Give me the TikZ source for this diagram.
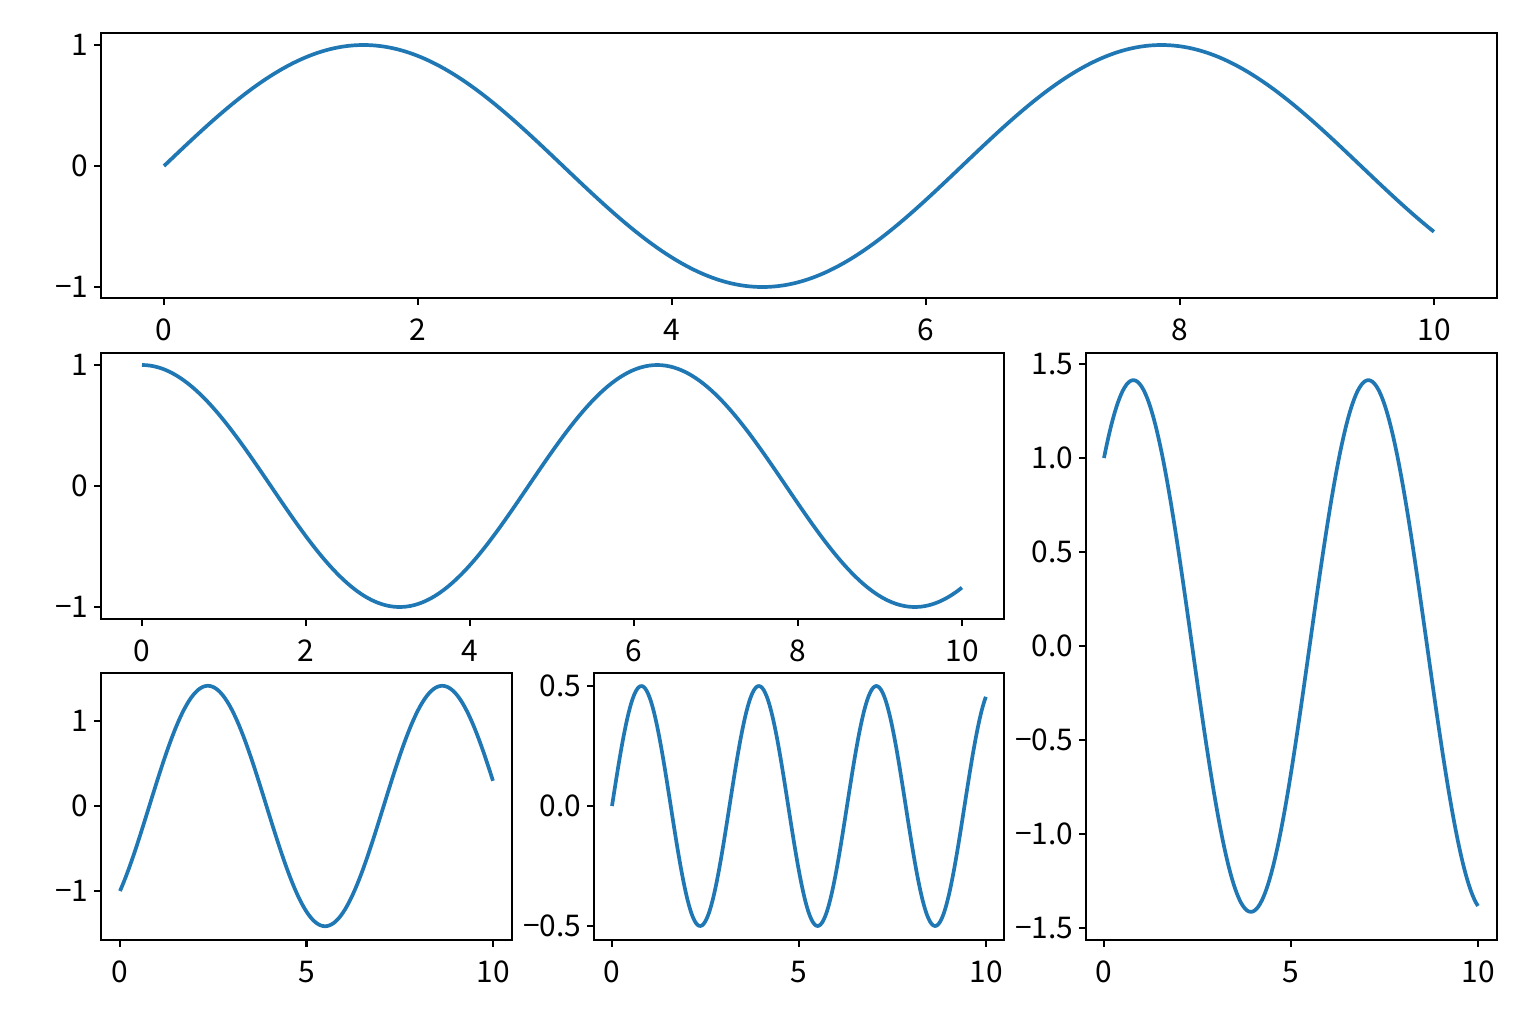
\documentclass[tikz,border=0pt]{standalone}
\usepackage{fontspec}
\newfontfamily\tickfont{Noto Sans CJK SC}
\definecolor{mblue}{HTML}{1F77B4}
\tikzset{
 spine/.style={draw=black,line width=0.6pt,fill=white},
 tk/.style={line width=0.6pt},
 curve/.style={draw=mblue,line width=1.05pt,line join=round},
 lab/.style={font=\tickfont\fontsize{8.5}{10}\selectfont,inner sep=0pt},
}
\begin{document}
\begin{tikzpicture}[x=0.01cm,y=-0.01cm]
\useasboundingbox[fill=white] (0,0) rectangle (1529,1033);
% ---- top
\draw[spine] (101,33) rectangle (1497,298);
\draw[curve] plot[domain=0:10,samples=200,smooth] ({164+127*\x},{166-121*sin(\x r)});
\foreach \k in {0,2,4,6,8,10}{\draw[tk] ({164+127*\k},298) -- ++(0,7); \node[lab,anchor=north] at ({164+127*\k},318) {\k};}
\foreach \v/\t in {-1/−1,0/0,1/1}{\draw[tk] (101,{166-121*\v}) -- ++(-7,0); \node[lab,anchor=east] at (89,{166-121*\v}) {\t};}
% ---- right
\draw[spine] (1086,353) rectangle (1497,940);
\draw[curve] plot[domain=0:10,samples=200,smooth] ({1104+37.4*\x},{646-188*(sin(\x r)+cos(\x r))});
\foreach \k in {0,5,10}{\draw[tk] ({1104+37.4*\k},940) -- ++(0,7); \node[lab,anchor=north] at ({1104+37.4*\k},960) {\k};}
\foreach \v/\t in {-1.5/−1.5,-1/−1.0,-0.5/−0.5,0/0.0,0.5/0.5,1/1.0,1.5/1.5}{\draw[tk] (1086,{646-188*\v}) -- ++(-7,0); \node[lab,anchor=east] at (1074,{646-188*\v}) {\t};}
% ---- middle
\draw[spine] (101,353) rectangle (1004,619);
\draw[curve] plot[domain=0:10,samples=200,smooth] ({142+82*\x},{486-121*cos(\x r)});
\foreach \k in {0,2,4,6,8,10}{\draw[tk] ({142+82*\k},619) -- ++(0,7); \node[lab,anchor=north] at ({142+82*\k},639) {\k};}
\foreach \v/\t in {-1/−1,0/0,1/1}{\draw[tk] (101,{486-121*\v}) -- ++(-7,0); \node[lab,anchor=east] at (89,{486-121*\v}) {\t};}
% ---- bottom left
\draw[spine] (101,673) rectangle (512,940);
\draw[curve] plot[domain=0:10,samples=200,smooth] ({120+37.3*\x},{806-85*(sin(\x r)-cos(\x r))});
\foreach \k in {0,5,10}{\draw[tk] ({120+37.3*\k},940) -- ++(0,7); \node[lab,anchor=north] at ({120+37.3*\k},960) {\k};}
\foreach \v/\t in {-1/−1,0/0,1/1}{\draw[tk] (101,{806-85*\v}) -- ++(-7,0); \node[lab,anchor=east] at (89,{806-85*\v}) {\t};}
% ---- bottom middle
\draw[spine] (594,673) rectangle (1004,940);
\draw[curve] plot[domain=0:10,samples=250,smooth] ({612+37.4*\x},{806-240*0.5*sin(2*\x r)});
\foreach \k in {0,5,10}{\draw[tk] ({612+37.4*\k},940) -- ++(0,7); \node[lab,anchor=north] at ({612+37.4*\k},960) {\k};}
\foreach \v/\t in {-0.5/−0.5,0/0.0,0.5/0.5}{\draw[tk] (594,{806-240*\v}) -- ++(-7,0); \node[lab,anchor=east] at (582,{806-240*\v}) {\t};}
\end{tikzpicture}
\end{document}
